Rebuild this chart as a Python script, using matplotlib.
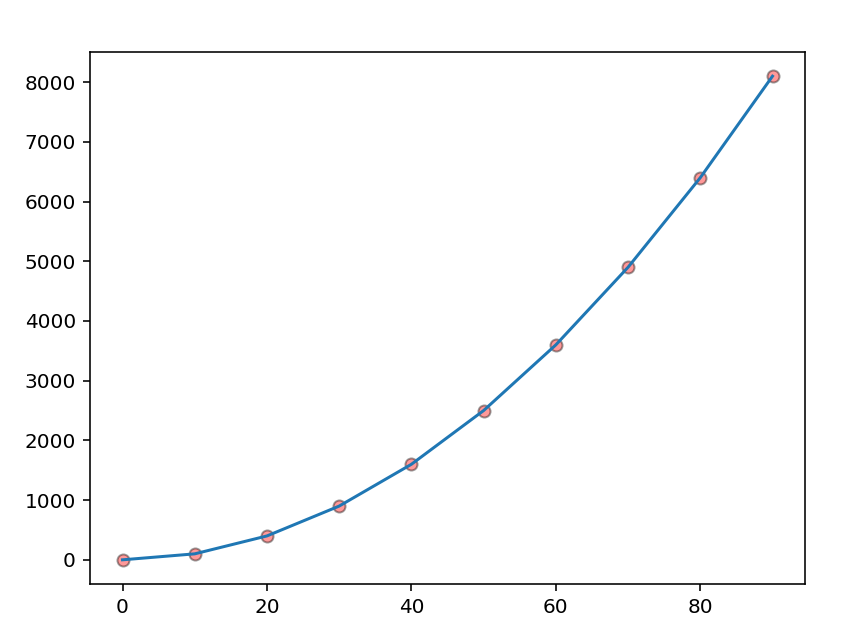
import matplotlib
matplotlib.use("Agg")
import matplotlib.pyplot as plt

x = [0, 10, 20, 30, 40, 50, 60, 70, 80, 90]
y = [0, 100, 400, 900, 1600, 2500, 3600, 4900, 6400, 8100]

fig, ax = plt.subplots(figsize=(853 / 144, 638 / 144), dpi=144)
fig.subplots_adjust(left=90 / 853, right=805 / 853, top=1 - 52 / 638, bottom=1 - 584 / 638)
ax.plot(x, y)
ax.scatter(x, y, c='red', edgecolors='black', alpha=0.4)
fig.savefig("out.png")
